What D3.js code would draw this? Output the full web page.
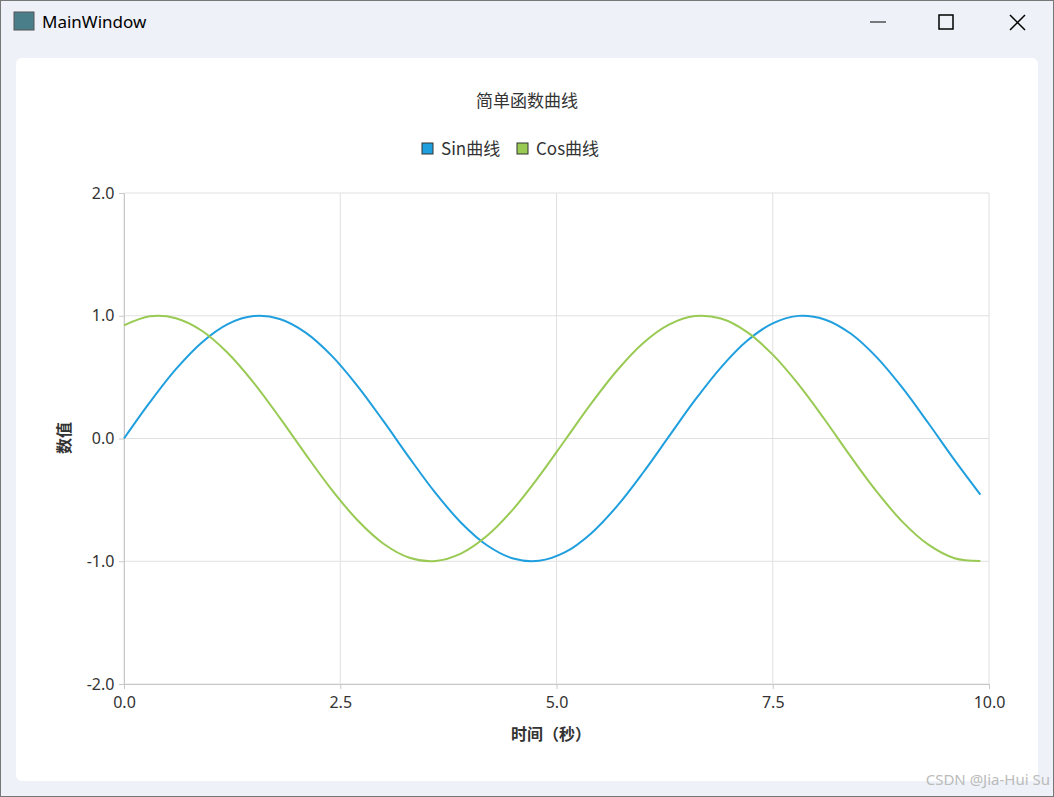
<!DOCTYPE html>
<html><head><meta charset="utf-8">
<script src="https://cdn.jsdelivr.net/npm/d3@7"></script>
<style>body{margin:0;background:#fff;font-family:"Noto Sans CJK SC","Noto Sans",sans-serif}</style>
</head><body><svg id="c" width="1054" height="797"></svg>
<script>
const xs=[0,0.3,0.6,0.9,1.2,1.5,1.8,2.1,2.4,2.7,3.0,3.3,3.6,3.9,4.2,4.5,4.8,5.1,5.4,5.7,6.0,6.3,6.6,6.9,7.2,7.5,7.8,8.1,8.4,8.7,9.0,9.3,9.6,9.9];
const sinVals=[0,0.296,0.565,0.783,0.932,0.997,0.974,0.863,0.675,0.427,0.141,-0.158,-0.443,-0.688,-0.872,-0.978,-0.996,-0.926,-0.773,-0.551,-0.279,0.017,0.312,0.578,0.794,0.938,0.999,0.970,0.855,0.663,0.412,0.124,-0.174,-0.457];
const cosVals=[0.921,0.995,0.980,0.878,0.697,0.454,0.170,-0.129,-0.416,-0.666,-0.857,-0.971,-0.998,-0.936,-0.791,-0.575,-0.307,-0.012,0.284,0.554,0.776,0.927,0.997,0.977,0.869,0.683,0.439,0.155,-0.146,-0.431,-0.679,-0.865,-0.975,-0.997];
const seriesNames=["Sin曲线","Cos曲线"];
const xTicks=[0,2.5,5,7.5,10];
const yTicks=[-2,-1,0,1,2];
const colors=["#209fdf","#99ca53"];

const svg=d3.select("#c");
svg.append("rect").attr("width",1054).attr("height",797).attr("fill","#eef1f7");
svg.append("rect").attr("x",0.5).attr("y",0.5).attr("width",1053).attr("height",796).attr("fill","none").attr("stroke","#777");
svg.append("rect").attr("x",14).attr("y",12).attr("width",20).attr("height",18).attr("fill","#4a7f8a").attr("stroke","#555");
svg.append("text").attr("x",42).attr("y",28).attr("font-size",17).attr("fill","#000").attr("font-family","Noto Sans").text("MainWindow");
svg.append("line").attr("x1",870).attr("x2",886).attr("y1",22).attr("y2",22).attr("stroke","#000");
svg.append("rect").attr("x",939).attr("y",15).attr("width",14).attr("height",14).attr("fill","none").attr("stroke","#000").attr("stroke-width",1.5);
svg.append("path").attr("d","M1010,15L1025,30M1025,15L1010,30").attr("stroke","#000").attr("stroke-width",1.5);
svg.append("rect").attr("x",16).attr("y",58).attr("width",1022).attr("height",723).attr("rx",6).attr("fill","#fff");

const x=d3.scaleLinear().domain([0,10]).range([124,989]);
const y=d3.scaleLinear().domain([-2,2]).range([684,193]);
const fmt=d=>d.toFixed(1);
const g=svg.append("g");
g.append("g").selectAll("line").data(xTicks).join("line").attr("x1",d=>x(d)).attr("x2",d=>x(d)).attr("y1",193).attr("y2",684).attr("stroke","#e0e0e0");
g.append("g").selectAll("line").data(yTicks).join("line").attr("y1",d=>y(d)).attr("y2",d=>y(d)).attr("x1",124).attr("x2",989).attr("stroke","#e0e0e0");
const xa=g.append("g").attr("transform","translate(0,684)").call(d3.axisBottom(x).tickValues(xTicks).tickFormat(fmt).tickSize(5).tickSizeOuter(0));
const ya=g.append("g").attr("transform","translate(124,0)").call(d3.axisLeft(y).tickValues(yTicks).tickFormat(fmt).tickSize(5).tickSizeOuter(0));
[xa,ya].forEach(a=>{a.select(".domain").attr("stroke","#c8c8c8");a.selectAll(".tick line").attr("stroke","#c8c8c8");a.selectAll("text").attr("font-size",16).attr("fill","#333").attr("font-family","Noto Sans");});
xa.selectAll("text").attr("dy","1.0em");
ya.selectAll("text").attr("dx","-0.1em");

const line=d3.line().x((d,i)=>x(xs[i])).y(d=>y(d)).curve(d3.curveCatmullRom);
[sinVals,cosVals].forEach((v,i)=>g.append("path").attr("d",line(v)).attr("fill","none").attr("stroke",colors[i]).attr("stroke-width",2));

svg.append("text").attr("x",527).attr("y",107).attr("text-anchor","middle").attr("font-size",17).attr("fill","#333").text("简单函数曲线");
const lx=[422,517];
seriesNames.forEach((n,i)=>{
 svg.append("rect").attr("x",lx[i]).attr("y",143).attr("width",11).attr("height",11).attr("fill",colors[i]).attr("stroke","#333");
 svg.append("text").attr("x",lx[i]+19).attr("y",155).attr("font-size",17).attr("fill","#333").text(n);
});
svg.append("text").attr("transform","translate(70,438) rotate(-90)").attr("text-anchor","middle").attr("font-size",16).attr("font-weight","bold").attr("fill","#333").text("数值");
svg.append("text").attr("x",551).attr("y",740).attr("text-anchor","middle").attr("font-size",16).attr("font-weight","bold").attr("fill","#333").text("时间（秒）");
svg.append("text").attr("x",1050).attr("y",785).attr("text-anchor","end").attr("font-size",15).attr("fill","#bbb").attr("font-family","Noto Sans").text("CSDN @Jia-Hui Su");
</script></body></html>
